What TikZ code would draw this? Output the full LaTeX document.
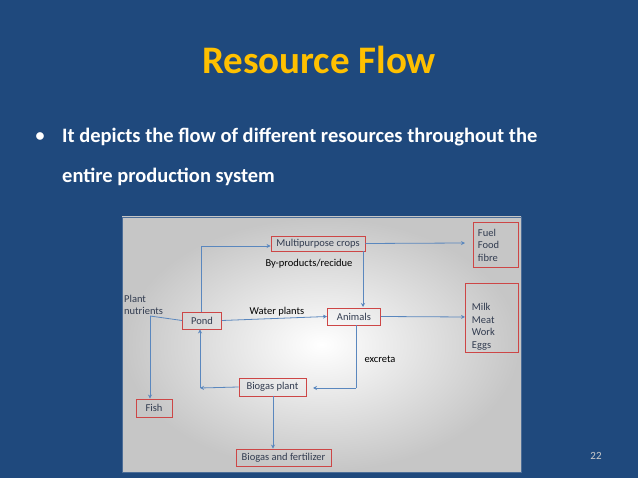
\documentclass[tikz,border=0pt]{standalone}
\usepackage{fontspec}
\setmainfont{Carlito}
\usetikzlibrary{arrows.meta}
\definecolor{bg}{RGB}{31,73,125}
\definecolor{ttl}{RGB}{255,192,0}
\definecolor{ln}{RGB}{90,135,190}
\definecolor{bx}{RGB}{205,70,70}
\definecolor{tx}{RGB}{50,60,80}
\tikzset{
 box/.style={draw=bx,line width=0.9pt,inner sep=2pt,font=\fontsize{10.5}{12.5}\selectfont,text=tx},
 lbl/.style={font=\fontsize{10.5}{12.5}\selectfont,text=black},
 flow/.style={draw=ln,line width=0.8pt,-{Stealth[length=4pt,width=4pt]}},
 seg/.style={draw=ln,line width=0.8pt}
}
\begin{document}
\begin{tikzpicture}[x=1pt,y=-1pt]
\fill[bg] (0,0) rectangle (638,478);
\useasboundingbox (0,0) rectangle (638,478);
\node[text=ttl,font=\fontsize{39}{44}\selectfont\bfseries] (title) at (319,60) {Resource Flow};
\node[text=white,font=\fontsize{18}{20}\selectfont\bfseries] (b1) at (40,137) {•};
\node[text=white,font=\fontsize{20.5}{24}\selectfont\bfseries,anchor=west,text width=539pt,align=justify,inner sep=0pt] (t1) at (62,137)
 {\parfillskip=0pt\relax It depicts the flow of different resources throughout the};
\node[text=white,font=\fontsize{20.5}{24}\selectfont\bfseries,anchor=west,inner sep=0pt] (t2) at (62,177) {entire production system};
\shade[inner color=white,outer color=gray!45] (122,217) rectangle (521,472);
\draw[bg!80,line width=0.6pt] (122,217) rectangle (521,472);
\node[text=gray!40,font=\fontsize{11}{12}\selectfont] (pg) at (596,456) {22};
% boxes
\node[box,minimum width=94pt,minimum height=15pt] (crops) at (318,243.5) {Multipurpose crops};
\node[box,minimum width=45pt,minimum height=45pt,align=left,anchor=north west,text width=36pt,inner sep=3pt] (fuel) at (473,222) {Fuel\\Food\\fibre};
\node[box,minimum width=39pt,minimum height=17pt,anchor=west] (pond) at (182,320.5) {Pond};
\node[box,minimum width=53pt,minimum height=17pt,anchor=west] (animals) at (327,316.5) {Animals};
\node[box,minimum width=53pt,minimum height=69pt,align=left,anchor=north west,text width=40pt,text depth=22pt,inner sep=3pt] (milk) at (465,283) {Milk\\Meat\\Work\\Eggs};
\node[box,minimum width=67pt,minimum height=18pt] (biogas) at (272.5,387) {Biogas plant};
\node[box,minimum width=36pt,minimum height=18pt] (fish) at (154,408) {Fish};
\node[box,minimum width=95pt,minimum height=17pt] (bfert) at (283.5,457.5) {Biogas and fertilizer};
% labels
\node[lbl] (byp) at (309,264) {By-products/recidue};
\node[lbl] (wp) at (277,312) {Water plants};
\node[lbl] (exc) at (380,359) {excreta};
\node[lbl,align=left,anchor=west,text=tx,inner sep=1pt] (pn) at (123,305) {Plant\\nutrients};
% coordinates
\coordinate (c1) at (201,246);
\coordinate (c2) at (150,316);
\coordinate (c3) at (356,388);
\coordinate (c4) at (313,388);
\coordinate (c5) at (200,388);
\coordinate (c6) at (465,243);
\coordinate (c7) at (465,317);
\coordinate (c8) at (273,396);
% connectors
\draw[flow] (crops.east) -- (c6);
\draw[flow] (crops.east -| 363,0) ++(0,8) -- (363,307);
\draw[flow] (animals.east) -- (c7);
\draw[flow] (pond.east) -- (animals.west);
\draw[seg] (pond.north -| c1) -- (c1);
\draw[flow] (c1) -- (crops.west |- c1);
\draw[seg] (pond.west) -- (c2);
\draw[flow] (c2) -- (c2 |- fish.north);
\draw[seg] (animals.south -| c3) -- (c3);
\draw[flow] (c3) -- (c4);
\draw[flow] (biogas.west) -- (c5);
\draw[flow] (c5) -- (c5 |- pond.south);
\draw[flow] (c8) -- (c8 |- bfert.north);
\end{tikzpicture}
\end{document}
